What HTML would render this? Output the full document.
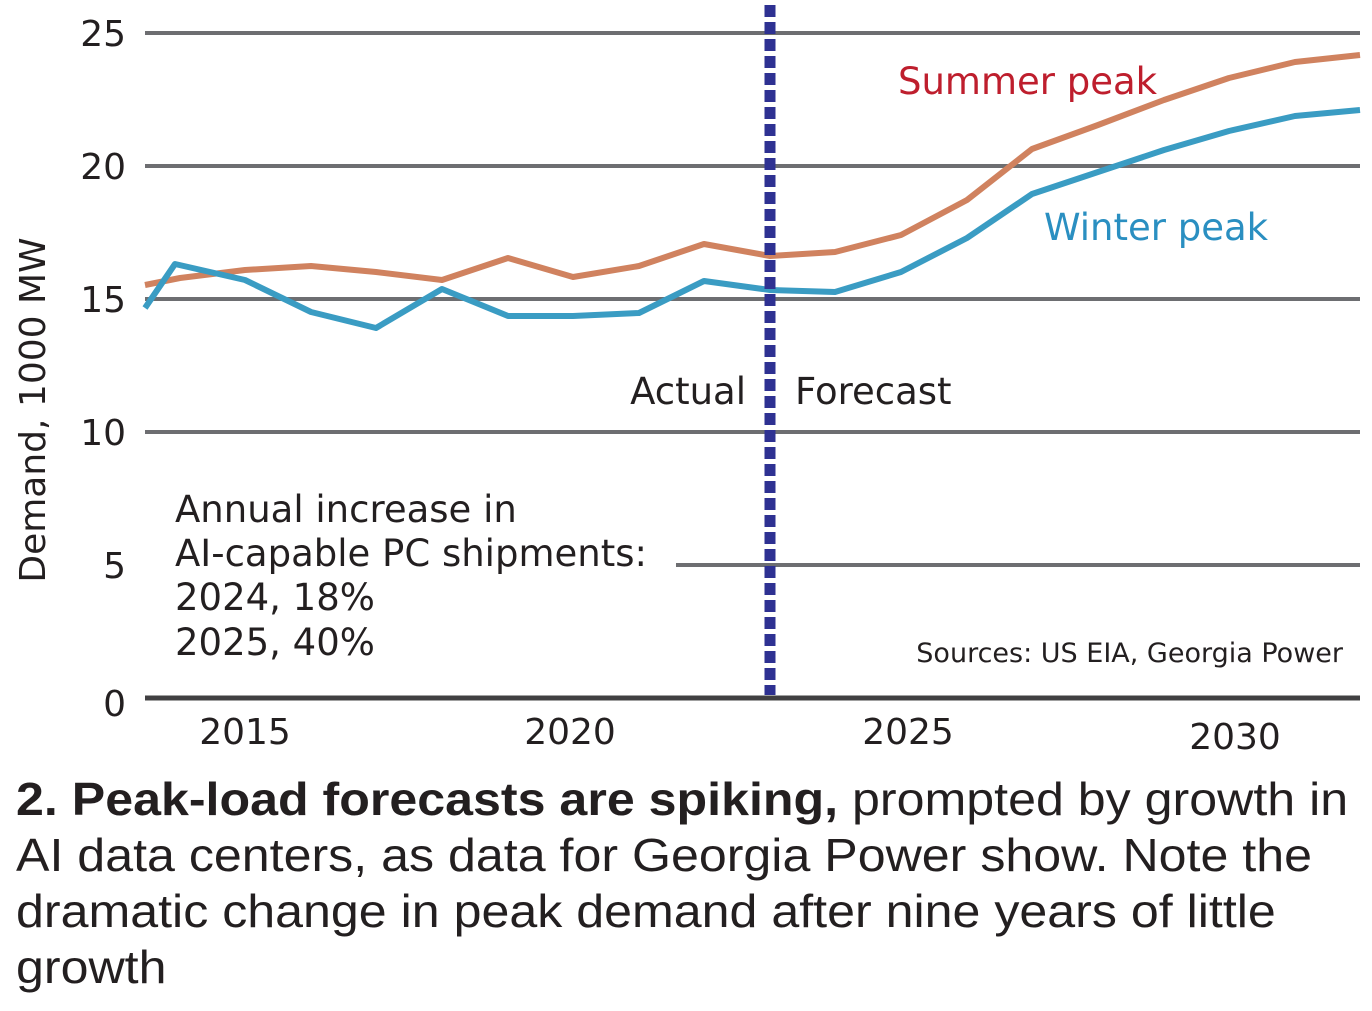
<!DOCTYPE html>
<html><head><style>
body{margin:0;background:#fff;width:1372px;height:1011px;overflow:hidden}
svg{position:absolute;left:0;top:0}
.cap{position:absolute;left:16px;top:771px;white-space:nowrap;font-family:"Liberation Sans",sans-serif;font-size:46px;line-height:56px;color:#231f20;transform:scaleX(1.09);transform-origin:0 0}
</style></head><body>
<svg width="1372" height="770" font-family="DejaVu Sans, Liberation Sans, sans-serif">
<g stroke="#6d6e71" stroke-width="4">
<line x1="145" y1="33" x2="1360" y2="33"/>
<line x1="145" y1="166" x2="1360" y2="166"/>
<line x1="145" y1="299" x2="1360" y2="299"/>
<line x1="145" y1="432" x2="1360" y2="432"/>
<line x1="676" y1="565" x2="1360" y2="565"/>
</g>
<line x1="145" y1="698" x2="1360" y2="698" stroke="#414042" stroke-width="5"/>
<g font-size="36" fill="#231f20" text-anchor="end">
<text x="126" y="46">25</text><text x="126" y="179">20</text><text x="126" y="312">15</text>
<text x="126" y="445">10</text><text x="126" y="578">5</text><text x="126" y="716">0</text>
</g>
<g font-size="36" fill="#231f20" text-anchor="middle">
<text x="245" y="744">2015</text><text x="570" y="744">2020</text><text x="908" y="744">2025</text><text x="1235" y="749">2030</text>
</g>
<text transform="translate(45,410) rotate(-90)" font-size="36" fill="#231f20" text-anchor="middle">Demand, 1000 MW</text>
<polyline fill="none" stroke="#d0825f" stroke-width="6" stroke-linejoin="round" points="145,285 180,278 245,270 311,266 376,272 442,280 508,258 573,277 639,266 704,244 770,256 835,252 901,235 967,200 1032,149 1098,125 1164,100 1229,78 1295,62 1360,55"/>
<polyline fill="none" stroke="#3a9cc3" stroke-width="6" stroke-linejoin="round" points="145,308 175,264 245,280 311,312 376,328 442,289 508,316 573,316 639,313 704,281 770,290 835,292 901,272 967,238 1032,194 1098,172 1164,150 1229,131 1295,116 1360,110"/>
<line x1="770" y1="5" x2="770" y2="695" stroke="#2e3192" stroke-width="11" stroke-dasharray="12,5"/>
<text x="898" y="94" font-size="37" fill="#be1e2d">Summer peak</text>
<text x="1044" y="240" font-size="37" fill="#2a8fc1">Winter peak</text>
<text x="746" y="404" font-size="37" fill="#231f20" text-anchor="end">Actual</text>
<text x="795" y="404" font-size="37" fill="#231f20">Forecast</text>
<g font-size="37" fill="#231f20">
<text x="175" y="522">Annual increase in</text>
<text x="175" y="566">AI-capable PC shipments:</text>
<text x="175" y="610">2024, 18%</text>
<text x="175" y="655">2025, 40%</text>
</g>
<text x="1343" y="662" font-size="27" fill="#231f20" text-anchor="end">Sources: US EIA, Georgia Power</text>
</svg>
<div class="cap"><b>2. Peak-load forecasts are spiking,</b> prompted by growth in<br>AI data centers, as data for Georgia Power show. Note the<br>dramatic change in peak demand after nine years of little<br>growth</div>
</body></html>
